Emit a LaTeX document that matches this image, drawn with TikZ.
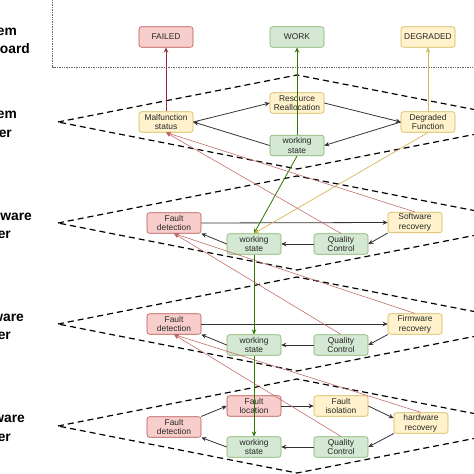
\documentclass[tikz,border=0pt]{standalone}
\usepackage{fontspec}
\setmainfont{Liberation Sans}
\usetikzlibrary{arrows.meta}
\definecolor{red_fill}{HTML}{F8CECC}
\definecolor{red_line}{HTML}{B85450}
\definecolor{yellow_fill}{HTML}{FFF2CC}
\definecolor{yellow_line}{HTML}{D6B656}
\definecolor{green_fill}{HTML}{D5E8D4}
\definecolor{green_line}{HTML}{82B366}
\definecolor{flow_green}{HTML}{2D7600}
\definecolor{fail_red}{HTML}{99293A}
\colorlet{text_gray}{black!85}
\colorlet{flow_gray}{black!80}

\begin{document}
\begin{tikzpicture}[x=1pt,y=-1pt,line join=round,
  box/.style={draw,rounded corners=2.5pt,minimum width=54pt,minimum height=20.5pt,
    inner sep=1pt,align=center,text=text_gray,line width=0.6pt,
    font=\fontsize{8.4}{9.7}\selectfont},
  redbox/.style={box,fill=red_fill,draw=red_line},
  yellowbox/.style={box,fill=yellow_fill,draw=yellow_line},
  greenbox/.style={box,fill=green_fill,draw=green_line},
  layerlabel/.style={inner sep=0pt,font=\fontsize{13.8}{18}\selectfont\bfseries},
  layerline/.style={dash pattern=on 6pt off 4pt,line width=1.2pt,line cap=butt},
  tip/.style={-{Stealth[length=5pt,width=4.5pt]}},
  flow/.style={tip,draw=flow_gray,line width=0.8pt},
  greenflow/.style={tip,draw=flow_green,line width=0.8pt},
  yellowflow/.style={tip,draw=yellow_line,line width=0.7pt},
  failflow/.style={tip,draw=fail_red,line width=0.8pt},
  redthin/.style={tip,draw=red_line!90,line width=0.55pt}
]
\useasboundingbox (0,0) rectangle (474,474);
\clip (0,0) rectangle (474,474);

% Dashboard frame and the four layer planes
\draw[densely dotted,line width=0.7pt,black!60] (52.5,-5) rectangle (480,67);
\foreach \cy in {122,223,324,426}
{
  \draw[layerline] (58,\cy) -- (297,\cy-47) -- (538,\cy) -- (297,\cy+47) -- cycle;
}

% Layer labels (cut at the left edge)
\foreach \txt/\xe/\yb [count=\i] in {em/17/35,oard/30/53,em/17/118,er/12/137,
  ware/32/220,er/11/238,ware/24/321,er/11/339,ware/25/422,er/11/441}
{
  \node[layerlabel,anchor=base east] (label\i) at (\xe,\yb) {\txt};
}

%-----------------------------------------------
% Dashboard
\node[redbox] (FAILED) at (166,37) {FAILED};
\node[greenbox] (WORK) at (297,37) {WORK};
\node[yellowbox] (DEGRADED) at (428,37) {DEGRADED};

% System layer
\node[yellowbox] (sysMal) at (166,122) {Malfunction\\status};
\node[yellowbox] (sysRes) at (297,103) {Resource\\Reallocation};
\node[yellowbox] (sysDeg) at (428,122) {Degraded\\Function};
\node[greenbox] (sysWS) at (297,145.5) {working\\state};

% Software layer
\node[redbox] (swFD) at (174,223) {Fault\\detection};
\node[yellowbox] (swRec) at (415,222.5) {Software\\recovery};
\node[greenbox] (swWS) at (254,244) {working\\state};
\node[greenbox] (swQC) at (341,244) {Quality\\Control};

% Firmware layer
\node[redbox] (fwFD) at (174,324) {Fault\\detection};
\node[yellowbox] (fwRec) at (415,324) {Firmware\\recovery};
\node[greenbox] (fwWS) at (254,345) {working\\state};
\node[greenbox] (fwQC) at (341,345) {Quality\\Control};

% Hardware layer
\node[redbox] (hwFL) at (254,406) {Fault\\location};
\node[yellowbox] (hwFI) at (341,406) {Fault\\isolation};
\node[redbox] (hwFD) at (174,427) {Fault\\detection};
\node[yellowbox] (hwRec) at (421,423) {hardware\\recovery};
\node[greenbox] (hwWS) at (254,447) {working\\state};
\node[greenbox] (hwQC) at (341,447) {Quality\\Control};

%-----------------------------------------------
% Flows inside the layers
\draw[flow] (sysMal.east) -- (sysRes.west);
\draw[flow] (sysRes.east) -- (sysDeg.west);
\draw[flow] (sysDeg.west) -- (sysWS.east);
\draw[flow] (sysWS.west) -- (sysMal.east);

\draw[flow] (swFD.east) -- (swRec.west);
\draw[flow] (swRec.south west) -- (swQC.east);
\draw[flow] (swQC.west) -- (swWS.east);
\draw[flow] (swWS.west) -- (swFD.south east);

\draw[flow] (fwFD.east) -- (fwRec.west);
\draw[flow] (fwRec.south west) -- (fwQC.east);
\draw[flow] (fwQC.west) -- (fwWS.east);
\draw[flow] (fwWS.west) -- (fwFD.south east);

\draw[flow] (hwFD.north east) -- (hwFL.west);
\draw[flow] (hwFL.east) -- (hwFI.west);
\draw[flow] (hwFI.east) -- (hwRec.170);
\draw[flow] (hwRec.south west) -- (hwQC.east);
\draw[flow] (hwQC.west) -- (hwWS.east);
\draw[flow] (hwWS.west) -- (hwFD.south east);

%-----------------------------------------------
% Flows between the layers
\draw[failflow] (sysMal.north) -- (FAILED.south);
\draw[greenflow] (sysWS.north) -- (WORK.south);
\draw[yellowflow] (sysDeg.north) -- (DEGRADED.south);

\draw[greenflow] (sysWS.south) -- (swWS.north);
\draw[yellowflow] (sysDeg.south) -- (swWS.north);
\draw[greenflow] (swWS.south) -- (fwWS.north);
\draw[greenflow] (fwWS.south) -- (hwWS.north);

\draw[redthin] (swQC.north) -- (sysMal.south);
\draw[redthin] (swRec.north) -- (sysMal.south);
\draw[redthin] (fwQC.north) -- (swFD.south);
\draw[redthin] (fwRec.north) -- (swFD.south);
\draw[redthin] (hwQC.north) -- (fwFD.south);
\draw[redthin] (hwRec.north) -- (fwFD.south);

\end{tikzpicture}
\end{document}
